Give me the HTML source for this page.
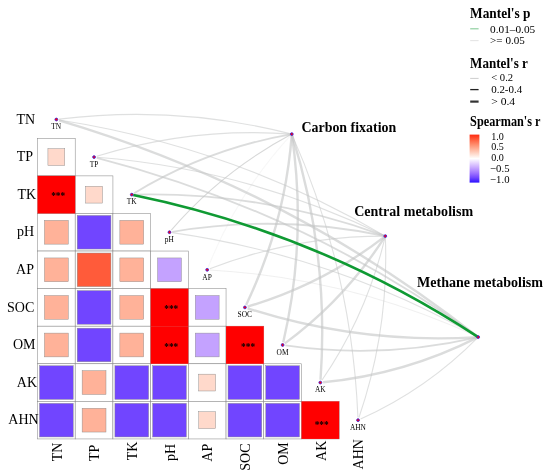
<!DOCTYPE html>
<html><head><meta charset="utf-8"><title>Mantel test</title>
<style>html,body{margin:0;padding:0;background:#fff}svg{display:block}</style></head>
<body>
<svg width="550" height="475" viewBox="0 0 550 475">
<rect width="550" height="475" fill="#fff"/>
<g stroke="#8a8a8a" stroke-width="0.55" fill="#fff">
<rect x="37.50" y="138.30" width="37.71" height="37.58"/>
<rect x="37.50" y="175.88" width="37.71" height="37.58"/>
<rect x="75.21" y="175.88" width="37.71" height="37.58"/>
<rect x="37.50" y="213.46" width="37.71" height="37.58"/>
<rect x="75.21" y="213.46" width="37.71" height="37.58"/>
<rect x="112.92" y="213.46" width="37.71" height="37.58"/>
<rect x="37.50" y="251.04" width="37.71" height="37.58"/>
<rect x="75.21" y="251.04" width="37.71" height="37.58"/>
<rect x="112.92" y="251.04" width="37.71" height="37.58"/>
<rect x="150.63" y="251.04" width="37.71" height="37.58"/>
<rect x="37.50" y="288.62" width="37.71" height="37.58"/>
<rect x="75.21" y="288.62" width="37.71" height="37.58"/>
<rect x="112.92" y="288.62" width="37.71" height="37.58"/>
<rect x="150.63" y="288.62" width="37.71" height="37.58"/>
<rect x="188.34" y="288.62" width="37.71" height="37.58"/>
<rect x="37.50" y="326.20" width="37.71" height="37.58"/>
<rect x="75.21" y="326.20" width="37.71" height="37.58"/>
<rect x="112.92" y="326.20" width="37.71" height="37.58"/>
<rect x="150.63" y="326.20" width="37.71" height="37.58"/>
<rect x="188.34" y="326.20" width="37.71" height="37.58"/>
<rect x="226.05" y="326.20" width="37.71" height="37.58"/>
<rect x="37.50" y="363.78" width="37.71" height="37.58"/>
<rect x="75.21" y="363.78" width="37.71" height="37.58"/>
<rect x="112.92" y="363.78" width="37.71" height="37.58"/>
<rect x="150.63" y="363.78" width="37.71" height="37.58"/>
<rect x="188.34" y="363.78" width="37.71" height="37.58"/>
<rect x="226.05" y="363.78" width="37.71" height="37.58"/>
<rect x="263.76" y="363.78" width="37.71" height="37.58"/>
<rect x="37.50" y="401.36" width="37.71" height="37.58"/>
<rect x="75.21" y="401.36" width="37.71" height="37.58"/>
<rect x="112.92" y="401.36" width="37.71" height="37.58"/>
<rect x="150.63" y="401.36" width="37.71" height="37.58"/>
<rect x="188.34" y="401.36" width="37.71" height="37.58"/>
<rect x="226.05" y="401.36" width="37.71" height="37.58"/>
<rect x="263.76" y="401.36" width="37.71" height="37.58"/>
<rect x="301.47" y="401.36" width="37.71" height="37.58"/>
</g>
<g stroke="#8a8a8a" stroke-width="0.45">
<rect x="47.92" y="148.69" width="16.86" height="16.81" fill="#FFD9CB"/>
<rect x="37.50" y="175.88" width="37.71" height="37.58" fill="#FF0000" stroke="none"/>
<rect x="85.63" y="186.27" width="16.86" height="16.81" fill="#FFD9CB"/>
<rect x="44.43" y="220.37" width="23.85" height="23.77" fill="#FFB299"/>
<rect x="77.20" y="215.44" width="33.73" height="33.61" fill="#7145FF"/>
<rect x="119.85" y="220.37" width="23.85" height="23.77" fill="#FFB299"/>
<rect x="44.43" y="257.95" width="23.85" height="23.77" fill="#FFB299"/>
<rect x="77.20" y="253.02" width="33.73" height="33.61" fill="#FF5B3A"/>
<rect x="119.85" y="257.95" width="23.85" height="23.77" fill="#FFB299"/>
<rect x="157.56" y="257.95" width="23.85" height="23.77" fill="#C4A2FF"/>
<rect x="44.43" y="295.53" width="23.85" height="23.77" fill="#FFB299"/>
<rect x="77.20" y="290.60" width="33.73" height="33.61" fill="#7145FF"/>
<rect x="119.85" y="295.53" width="23.85" height="23.77" fill="#FFB299"/>
<rect x="150.63" y="288.62" width="37.71" height="37.58" fill="#FF0000" stroke="none"/>
<rect x="195.27" y="295.53" width="23.85" height="23.77" fill="#C4A2FF"/>
<rect x="44.43" y="333.11" width="23.85" height="23.77" fill="#FFB299"/>
<rect x="77.20" y="328.18" width="33.73" height="33.61" fill="#7145FF"/>
<rect x="119.85" y="333.11" width="23.85" height="23.77" fill="#FFB299"/>
<rect x="150.63" y="326.20" width="37.71" height="37.58" fill="#FF0000" stroke="none"/>
<rect x="195.27" y="333.11" width="23.85" height="23.77" fill="#C4A2FF"/>
<rect x="226.05" y="326.20" width="37.71" height="37.58" fill="#FF0000" stroke="none"/>
<rect x="39.49" y="365.76" width="33.73" height="33.61" fill="#7145FF"/>
<rect x="82.14" y="370.69" width="23.85" height="23.77" fill="#FFB299"/>
<rect x="114.91" y="365.76" width="33.73" height="33.61" fill="#7145FF"/>
<rect x="152.62" y="365.76" width="33.73" height="33.61" fill="#7145FF"/>
<rect x="198.76" y="374.17" width="16.86" height="16.81" fill="#FFD9CB"/>
<rect x="228.04" y="365.76" width="33.73" height="33.61" fill="#7145FF"/>
<rect x="265.75" y="365.76" width="33.73" height="33.61" fill="#7145FF"/>
<rect x="39.49" y="403.34" width="33.73" height="33.61" fill="#7145FF"/>
<rect x="82.14" y="408.27" width="23.85" height="23.77" fill="#FFB299"/>
<rect x="114.91" y="403.34" width="33.73" height="33.61" fill="#7145FF"/>
<rect x="152.62" y="403.34" width="33.73" height="33.61" fill="#7145FF"/>
<rect x="198.76" y="411.75" width="16.86" height="16.81" fill="#FFD9CB"/>
<rect x="228.04" y="403.34" width="33.73" height="33.61" fill="#7145FF"/>
<rect x="265.75" y="403.34" width="33.73" height="33.61" fill="#7145FF"/>
<rect x="301.47" y="401.36" width="37.71" height="37.58" fill="#FF0000" stroke="none"/>
</g>
<g font-family="'Liberation Serif', serif" font-size="9.3" font-weight="bold" text-anchor="middle" fill="#000">
<text x="58.11" y="199.47">***</text>
<text x="171.29" y="312.41">***</text>
<text x="171.29" y="350.49">***</text>
<text x="248.10" y="350.49">***</text>
<text x="321.62" y="427.65">***</text>
</g>
<g font-family="'Liberation Serif', serif" font-size="14" text-anchor="end" fill="#000">
<text x="35.10" y="123.71">TN</text>
<text x="33.10" y="161.29">TP</text>
<text x="36.10" y="198.87">TK</text>
<text x="34.00" y="236.45">pH</text>
<text x="34.00" y="274.03">AP</text>
<text x="34.30" y="311.61">SOC</text>
<text x="35.50" y="349.19">OM</text>
<text x="37.10" y="386.77">AK</text>
<text x="38.70" y="424.35">AHN</text>
</g>
<g font-family="'Liberation Serif', serif" font-size="14" text-anchor="end" fill="#000">
<text transform="translate(61.56,442.70) rotate(-90)">TN</text>
<text transform="translate(99.27,444.70) rotate(-90)">TP</text>
<text transform="translate(136.97,441.70) rotate(-90)">TK</text>
<text transform="translate(174.69,443.80) rotate(-90)">pH</text>
<text transform="translate(212.39,443.80) rotate(-90)">AP</text>
<text transform="translate(250.10,443.50) rotate(-90)">SOC</text>
<text transform="translate(287.81,442.30) rotate(-90)">OM</text>
<text transform="translate(325.52,440.70) rotate(-90)">AK</text>
<text transform="translate(363.24,439.10) rotate(-90)">AHN</text>
</g>
<g fill="none" stroke-linecap="butt">
<path d="M56.36 119.51A626.38 626.38 0 0 1 291.80 134.10" stroke="rgba(195,197,197,0.54)" stroke-width="1.1" stroke-dasharray="10000 10000" stroke-dashoffset="-2.8"/>
<path d="M94.06 157.09A528.59 528.59 0 0 1 291.80 134.10" stroke="rgba(195,197,197,0.54)" stroke-width="1.1" stroke-dasharray="10000 10000" stroke-dashoffset="-2.8"/>
<path d="M131.78 194.67A454.34 454.34 0 0 1 291.80 134.10" stroke="rgba(195,197,197,0.6)" stroke-width="1.8" stroke-dasharray="10000 10000" stroke-dashoffset="-2.8"/>
<path d="M169.49 232.25A416.42 416.42 0 0 1 291.80 134.10" stroke="rgba(190,192,192,0.62)" stroke-width="1.1" stroke-dasharray="10000 10000" stroke-dashoffset="-2.8"/>
<path d="M207.19 269.83A424.69 424.69 0 0 1 291.80 134.10" stroke="rgba(195,197,197,0.13)" stroke-width="1.1" stroke-dasharray="10000 10000" stroke-dashoffset="-2.8"/>
<path d="M244.91 307.41A476.74 476.74 0 0 0 291.80 134.10" stroke="rgba(195,197,197,0.6)" stroke-width="2.4" stroke-dasharray="10000 10000" stroke-dashoffset="-2.8"/>
<path d="M282.62 344.99A560.51 560.51 0 0 0 291.80 134.10" stroke="rgba(195,197,197,0.6)" stroke-width="2.4" stroke-dasharray="10000 10000" stroke-dashoffset="-2.8"/>
<path d="M320.32 382.57A664.10 664.10 0 0 0 291.80 134.10" stroke="rgba(195,197,197,0.6)" stroke-width="2.4" stroke-dasharray="10000 10000" stroke-dashoffset="-2.8"/>
<path d="M358.04 420.15A779.65 779.65 0 0 0 291.80 134.10" stroke="rgba(195,197,197,0.54)" stroke-width="1.1" stroke-dasharray="10000 10000" stroke-dashoffset="-2.8"/>
<path d="M56.36 119.51A926.70 926.70 0 0 1 385.30 236.10" stroke="rgba(195,197,197,0.54)" stroke-width="1.1" stroke-dasharray="10000 10000" stroke-dashoffset="-2.8"/>
<path d="M94.06 157.09A801.28 801.28 0 0 1 385.30 236.10" stroke="rgba(195,197,197,0.54)" stroke-width="1.1" stroke-dasharray="10000 10000" stroke-dashoffset="-2.8"/>
<path d="M131.78 194.67A682.12 682.12 0 0 1 385.30 236.10" stroke="rgba(195,197,197,0.6)" stroke-width="1.8" stroke-dasharray="10000 10000" stroke-dashoffset="-2.8"/>
<path d="M169.49 232.25A573.15 573.15 0 0 1 385.30 236.10" stroke="rgba(195,197,197,0.6)" stroke-width="1.8" stroke-dasharray="10000 10000" stroke-dashoffset="-2.8"/>
<path d="M207.19 269.83A481.33 481.33 0 0 1 385.30 236.10" stroke="rgba(195,197,197,0.54)" stroke-width="1.1" stroke-dasharray="10000 10000" stroke-dashoffset="-2.8"/>
<path d="M244.91 307.41A418.13 418.13 0 0 0 385.30 236.10" stroke="rgba(195,197,197,0.6)" stroke-width="2.4" stroke-dasharray="10000 10000" stroke-dashoffset="-2.8"/>
<path d="M282.62 344.99A397.42 397.42 0 0 0 385.30 236.10" stroke="rgba(195,197,197,0.6)" stroke-width="2.4" stroke-dasharray="10000 10000" stroke-dashoffset="-2.8"/>
<path d="M320.32 382.57A425.48 425.48 0 0 0 385.30 236.10" stroke="rgba(195,197,197,0.54)" stroke-width="1.1" stroke-dasharray="10000 10000" stroke-dashoffset="-2.8"/>
<path d="M358.04 420.15A494.05 494.05 0 0 0 385.30 236.10" stroke="rgba(195,197,197,0.54)" stroke-width="1.1" stroke-dasharray="10000 10000" stroke-dashoffset="-2.8"/>
<path d="M56.36 119.51A1260.37 1260.37 0 0 1 478.20 337.10" stroke="rgba(195,197,197,0.6)" stroke-width="2.4" stroke-dasharray="10000 10000" stroke-dashoffset="-2.8"/>
<path d="M94.06 157.09A1126.45 1126.45 0 0 1 478.20 337.10" stroke="rgba(195,197,197,0.6)" stroke-width="1.8" stroke-dasharray="10000 10000" stroke-dashoffset="-2.8"/>
<path d="M169.49 232.25A865.73 865.73 0 0 1 478.20 337.10" stroke="rgba(195,197,197,0.54)" stroke-width="1.1" stroke-dasharray="10000 10000" stroke-dashoffset="-2.8"/>
<path d="M207.19 269.83A741.45 741.45 0 0 1 478.20 337.10" stroke="rgba(195,197,197,0.25)" stroke-width="1.1" stroke-dasharray="10000 10000" stroke-dashoffset="-2.8"/>
<path d="M244.91 307.41A624.47 624.47 0 0 0 478.20 337.10" stroke="rgba(195,197,197,0.6)" stroke-width="2.4" stroke-dasharray="10000 10000" stroke-dashoffset="-2.8"/>
<path d="M282.62 344.99A519.76 519.76 0 0 0 478.20 337.10" stroke="rgba(195,197,197,0.6)" stroke-width="1.8" stroke-dasharray="10000 10000" stroke-dashoffset="-2.8"/>
<path d="M320.32 382.57A436.25 436.25 0 0 0 478.20 337.10" stroke="rgba(195,197,197,0.6)" stroke-width="2.4" stroke-dasharray="10000 10000" stroke-dashoffset="-2.8"/>
<path d="M358.04 420.15A387.87 387.87 0 0 0 478.20 337.10" stroke="rgba(195,197,197,0.54)" stroke-width="1.1" stroke-dasharray="10000 10000" stroke-dashoffset="-2.8"/>
<path d="M131.78 194.67A994.58 994.58 0 0 1 478.20 337.10" stroke="#0F9A33" stroke-width="2.6" stroke-dasharray="10000 10000" stroke-dashoffset="-1.5"/>
</g>
<g fill="#FF0000" stroke="#3A22E0" stroke-width="0.85">
<circle cx="56.36" cy="119.51" r="1.4"/>
<circle cx="94.06" cy="157.09" r="1.4"/>
<circle cx="131.78" cy="194.67" r="1.4"/>
<circle cx="169.49" cy="232.25" r="1.4"/>
<circle cx="207.19" cy="269.83" r="1.4"/>
<circle cx="244.91" cy="307.41" r="1.4"/>
<circle cx="282.62" cy="344.99" r="1.4"/>
<circle cx="320.32" cy="382.57" r="1.4"/>
<circle cx="358.04" cy="420.15" r="1.4"/>
<circle cx="291.8" cy="134.1" r="1.4"/>
<circle cx="385.3" cy="236.1" r="1.4"/>
<circle cx="478.2" cy="337.1" r="1.4"/>
</g>
<g font-family="'Liberation Serif', serif" font-size="7.4" text-anchor="middle" fill="#000">
<text x="56.26" y="129.31">TN</text>
<text x="93.97" y="166.89">TP</text>
<text x="131.68" y="204.47">TK</text>
<text x="169.39" y="242.05">pH</text>
<text x="207.09" y="279.63">AP</text>
<text x="244.81" y="317.21">SOC</text>
<text x="282.51" y="354.79">OM</text>
<text x="320.22" y="392.37">AK</text>
<text x="357.94" y="429.95">AHN</text>
</g>
<g font-family="'Liberation Serif', serif" font-size="15.6" font-weight="bold" fill="#000">
<text x="301.5" y="132" textLength="94.7" lengthAdjust="spacingAndGlyphs">Carbon fixation</text>
<text x="354.2" y="216" textLength="118.9" lengthAdjust="spacingAndGlyphs">Central metabolism</text>
<text x="417.1" y="286.5" textLength="125.9" lengthAdjust="spacingAndGlyphs">Methane metabolism</text>
</g>
<g font-family="'Liberation Serif', serif" fill="#000">
<g font-size="14.4" font-weight="bold">
<text x="470.1" y="18.4" textLength="60.4" lengthAdjust="spacingAndGlyphs">Mantel's p</text>
<text x="470.1" y="67.6" textLength="57.7" lengthAdjust="spacingAndGlyphs">Mantel's r</text>
<text x="470.1" y="125.8" textLength="70.4" lengthAdjust="spacingAndGlyphs">Spearman's r</text>
</g>
<g font-size="11.2">
<text x="490.1" y="32.8" textLength="45.1" lengthAdjust="spacingAndGlyphs">0.01–0.05</text>
<text x="490.1" y="44.4" textLength="34.7" lengthAdjust="spacingAndGlyphs">&gt;= 0.05</text>
<text x="491.2" y="81.2" textLength="21.9" lengthAdjust="spacingAndGlyphs">&lt; 0.2</text>
<text x="491.2" y="92.8" textLength="31" lengthAdjust="spacingAndGlyphs">0.2-0.4</text>
<text x="491.2" y="105.4" textLength="24" lengthAdjust="spacingAndGlyphs">&gt; 0.4</text>
<text x="491.2" y="139.5" textLength="12.6" lengthAdjust="spacingAndGlyphs">1.0</text>
<text x="491.2" y="150.4" textLength="12.6" lengthAdjust="spacingAndGlyphs">0.5</text>
<text x="491.2" y="161.1" textLength="12.6" lengthAdjust="spacingAndGlyphs">0.0</text>
<text x="490.1" y="172" textLength="19.4" lengthAdjust="spacingAndGlyphs">−0.5</text>
<text x="490.1" y="182.7" textLength="19.4" lengthAdjust="spacingAndGlyphs">−1.0</text>
</g></g>
<line x1="470.2" x2="478.6" y1="28.8" y2="28.8" stroke="#0F9A33" stroke-opacity="0.5" stroke-width="1.1"/>
<line x1="470.2" x2="478.6" y1="40.6" y2="40.6" stroke="#ccc" stroke-opacity="0.5" stroke-width="1.1"/>
<line x1="470.2" x2="478.6" y1="78.4" y2="78.4" stroke="#333" stroke-opacity="0.35" stroke-width="0.7"/>
<line x1="470.2" x2="478.6" y1="89.6" y2="89.6" stroke="#222" stroke-width="1.3"/>
<line x1="470.2" x2="478.6" y1="101.6" y2="101.6" stroke="#333" stroke-width="2.2"/>
<defs><linearGradient id="g" x1="0" y1="0" x2="0" y2="1">
<stop offset="0" stop-color="#FF2A10"/>
<stop offset="0.1" stop-color="#FF5B3A"/>
<stop offset="0.2" stop-color="#FF8969"/>
<stop offset="0.3" stop-color="#FFB299"/>
<stop offset="0.4" stop-color="#FFD9CB"/>
<stop offset="0.5" stop-color="#FFFFFF"/>
<stop offset="0.6" stop-color="#E3D0FF"/>
<stop offset="0.7" stop-color="#C4A2FF"/>
<stop offset="0.8" stop-color="#A074FF"/>
<stop offset="0.9" stop-color="#7145FF"/>
<stop offset="1" stop-color="#2A10FF"/>
</linearGradient></defs>
<rect x="469.6" y="134.6" width="9.8" height="48" fill="url(#g)"/>
</svg>
</body></html>
